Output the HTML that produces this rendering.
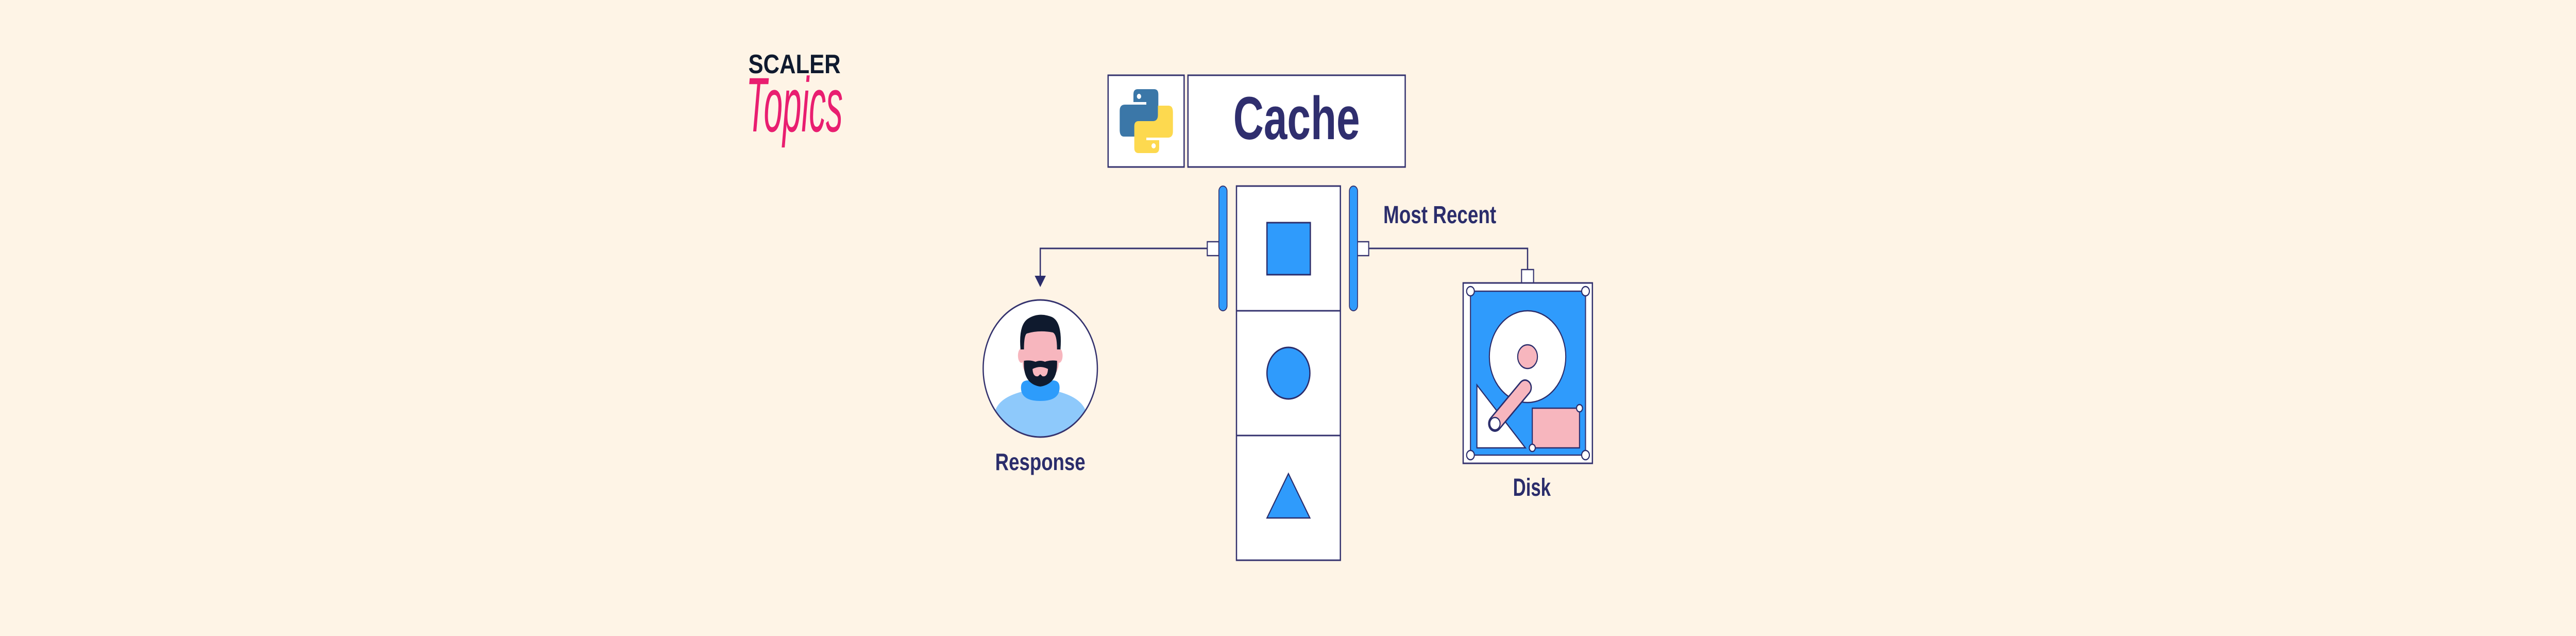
<!DOCTYPE html>
<html><head><meta charset="utf-8"><style>
html,body{margin:0;padding:0;background:#fef4e6;width:100%;height:100%;overflow:hidden;}
svg{display:block;position:absolute;left:0;top:0;width:100vw;height:100vh;}
text{font-family:"Liberation Sans",sans-serif;}
</style></head><body>
<svg viewBox="0 0 6000 1234" preserveAspectRatio="none" xmlns="http://www.w3.org/2000/svg">
<rect width="6000" height="1234" fill="#fef4e6"/>
<text x="1743" y="142" font-size="52" font-weight="bold" fill="#0f1a2e" textLength="215" lengthAdjust="spacingAndGlyphs">SCALER</text>
<text x="1738" y="255" font-size="150" font-style="italic" font-family="Liberation Serif,serif" fill="#e91e70" textLength="225" lengthAdjust="spacingAndGlyphs">Topics</text>

<rect x="2581" y="146" width="177" height="178" fill="#fff" stroke="#34326e" stroke-width="3"/>
<g>
<path d="M2650 173 H2688 Q2698 173 2698 183 V225 Q2698 235 2688 235 H2655 Q2643 235 2643 247 V265 H2618 Q2608 265 2608 252 V215 Q2608 203 2620 203 H2670 V198 H2640 V183 Q2640 173 2650 173 Z" fill="#3b77a8"/>
<circle cx="2653" cy="187" r="5" fill="#fff"/>
<g transform="rotate(180 2670 235)">
<path d="M2650 173 H2688 Q2698 173 2698 183 V225 Q2698 235 2688 235 H2655 Q2643 235 2643 247 V265 H2618 Q2608 265 2608 252 V215 Q2608 203 2620 203 H2670 V198 H2640 V183 Q2640 173 2650 173 Z" fill="#fdd94f"/>
<circle cx="2653" cy="187" r="5" fill="#fff"/>
</g>
</g>
<rect x="2767" y="146" width="506" height="178" fill="#fff" stroke="#34326e" stroke-width="3"/>
<text x="3020" y="270" font-size="118" font-weight="bold" fill="#2f2e6e" text-anchor="middle" textLength="295" lengthAdjust="spacingAndGlyphs">Cache</text>

<polyline points="2812,482 2423,482 2423,536" fill="none" stroke="#34326e" stroke-width="3"/>
<polygon points="2410,535 2436,535 2423,557" fill="#2b2d6b"/>
<polyline points="3188,482 3558,482 3558,524" fill="none" stroke="#34326e" stroke-width="3"/>
<rect x="2812" y="469" width="27" height="27" fill="#fff" stroke="#34326e" stroke-width="2.5"/>
<rect x="3161" y="469" width="27" height="27" fill="#fff" stroke="#34326e" stroke-width="2.5"/>

<rect x="2839" y="361" width="19" height="242" rx="9.5" fill="#2f9bfc" stroke="#34326e" stroke-width="2"/>
<rect x="3143" y="361" width="19" height="242" rx="9.5" fill="#2f9bfc" stroke="#34326e" stroke-width="2"/>

<rect x="2880" y="361" width="242" height="726" fill="#fff" stroke="#34326e" stroke-width="3"/>
<line x1="2880" y1="603" x2="3122" y2="603" stroke="#34326e" stroke-width="3"/>
<line x1="2880" y1="845" x2="3122" y2="845" stroke="#34326e" stroke-width="3"/>
<rect x="2951" y="432" width="101" height="101" fill="#2f9bfc" stroke="#2b2d6b" stroke-width="3"/>
<circle cx="3001" cy="724" r="50" fill="#2f9bfc" stroke="#2b2d6b" stroke-width="3"/>
<polygon points="3001,919 3051,1005 2951,1005" fill="#2f9bfc" stroke="#2b2d6b" stroke-width="2.5"/>

<text x="3222" y="433" font-size="48" font-weight="bold" fill="#2b2d6b" textLength="263" lengthAdjust="spacingAndGlyphs">Most Recent</text>

<defs><clipPath id="pc"><circle cx="2423" cy="715" r="133"/></clipPath></defs>
<circle cx="2423" cy="715" r="133" fill="#fff"/>
<g clip-path="url(#pc)">
<path d="M2317 800 Q2325 772 2380 760 L2423 752 L2466 760 Q2520 772 2530 800 L2570 870 H2280 Z" fill="#8ec9fb"/>
<rect x="2398" y="728" width="50" height="25" fill="#f7b6be"/>
<path d="M2378 752 Q2378 738 2395 738 Q2423 750 2452 738 Q2468 738 2468 752 Q2468 778 2423 778 Q2378 778 2378 752 Z" fill="#2d9cfb"/>
<ellipse cx="2379" cy="690" rx="8" ry="14" fill="#f7b6be"/>
<ellipse cx="2467" cy="690" rx="8" ry="14" fill="#f7b6be"/>
<rect x="2382" y="640" width="84" height="95" rx="30" fill="#f7b6be"/>
<path d="M2377 678 Q2372 630 2395 618 Q2420 605 2450 615 Q2475 625 2470 678 L2462 678 Q2462 648 2452 645 Q2420 640 2392 647 Q2385 650 2385 678 Z" fill="#0f1a2e"/>
<path d="M2385 700 Q2400 698 2412 702 Q2423 698 2434 702 Q2446 698 2462 700 Q2465 745 2423 750 Q2382 745 2385 700 Z" fill="#0f1a2e"/>
<path d="M2405 716 Q2423 708 2441 716 Q2440 732 2428 730 L2423 726 L2418 730 Q2406 732 2405 716 Z" fill="#f7b6be"/>
</g>
<circle cx="2423" cy="715" r="133" fill="none" stroke="#34326e" stroke-width="3"/>
<text x="2318" y="912" font-size="46" font-weight="bold" fill="#2b2d6b" textLength="210" lengthAdjust="spacingAndGlyphs">Response</text>

<rect x="3544" y="523" width="28" height="26" fill="#fff" stroke="#34326e" stroke-width="2.5"/>
<rect x="3408" y="549" width="301" height="350" fill="#fff" stroke="#34326e" stroke-width="3"/>
<rect x="3425" y="565" width="268" height="318" fill="#2f9bfc" stroke="#34326e" stroke-width="2.5"/>
<circle cx="3558" cy="692" r="89" fill="#fff" stroke="#2b2d6b" stroke-width="2.5"/>
<circle cx="3558" cy="692" r="23" fill="#f7b6be" stroke="#2b2d6b" stroke-width="2.5"/>
<polygon points="3440,747 3553,869 3440,869" fill="#fff" stroke="#2b2d6b" stroke-width="2.5"/>
<line x1="3552" y1="752" x2="3482" y2="822" stroke="#2b2d6b" stroke-width="32" stroke-linecap="round"/>
<line x1="3552" y1="752" x2="3482" y2="822" stroke="#f7b6be" stroke-width="26" stroke-linecap="round"/>
<circle cx="3482" cy="822" r="12" fill="#fff" stroke="#2b2d6b" stroke-width="2.5"/>
<rect x="3569" y="792" width="110" height="77" fill="#f7b6be" stroke="#2b2d6b" stroke-width="2.5"/>
<g fill="#fff" stroke="#2b2d6b" stroke-width="2.5">
<circle cx="3425" cy="565" r="9"/><circle cx="3693" cy="565" r="9"/>
<circle cx="3425" cy="883" r="9"/><circle cx="3693" cy="883" r="9"/>
<circle cx="3679" cy="792" r="7"/><circle cx="3569" cy="869" r="7"/>
</g>
<text x="3524" y="962" font-size="48" font-weight="bold" fill="#2b2d6b" textLength="88" lengthAdjust="spacingAndGlyphs">Disk</text>
</svg>
</body></html>
